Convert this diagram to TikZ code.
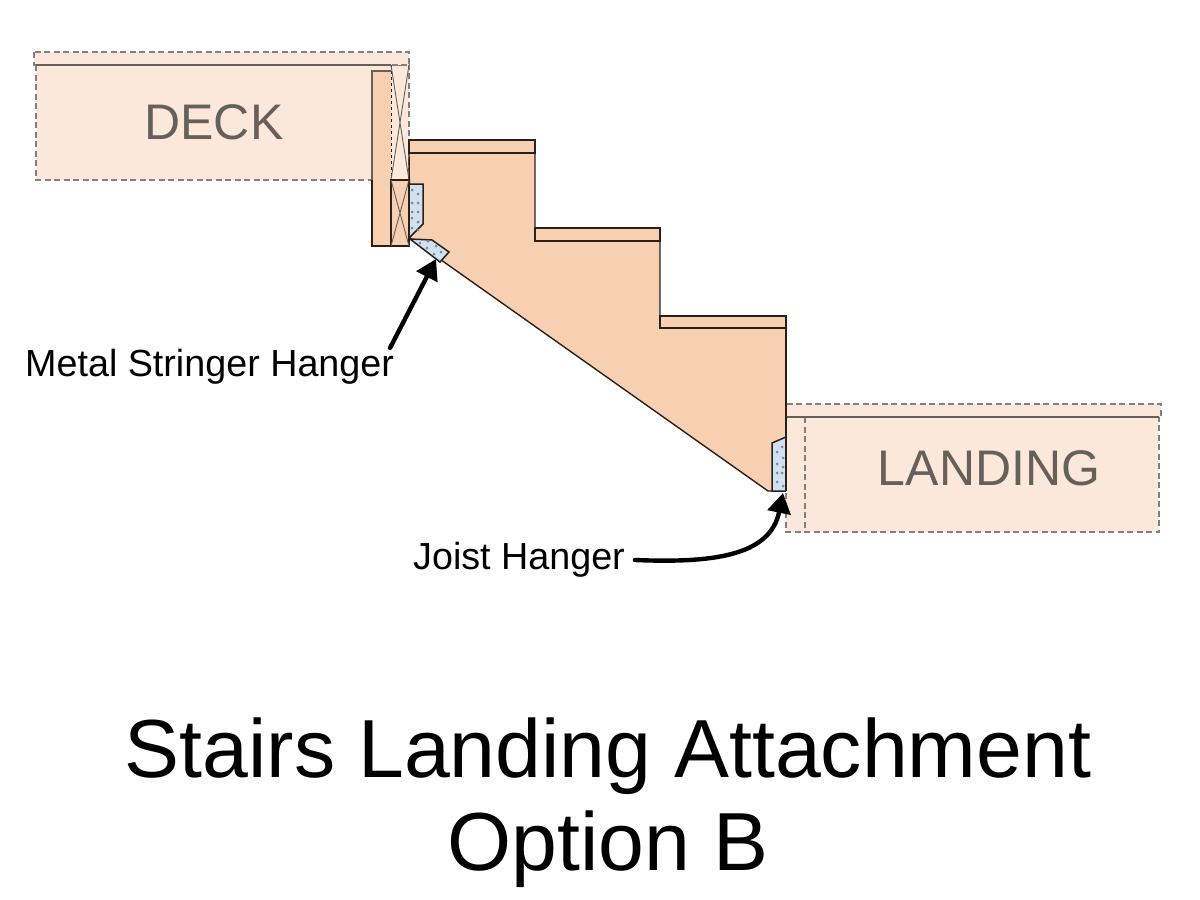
\documentclass[tikz,border=0pt]{standalone}
\usepackage{fontspec}
\setmainfont{Liberation Sans}
\usetikzlibrary{arrows.meta}
\definecolor{pale}{HTML}{FBE8DA}
\definecolor{wood}{HTML}{F7CFB1}
\definecolor{metal}{HTML}{CFE2F3}
\definecolor{dashc}{HTML}{857F7A}
\definecolor{txtc}{HTML}{666059}
\definecolor{edge}{HTML}{2B2018}
\tikzset{
  zone/.style={fill=pale,draw=dashc,line width=1.3pt,dash pattern=on 6pt off 3.5pt},
  rule/.style={draw=txtc,line width=1.3pt},
  woodpart/.style={fill=wood,draw=edge,line width=1.4pt,line join=miter},
  cross/.style={draw=txtc,line width=0.9pt},
  hanger/.style={fill=metal,draw=edge,line width=1.5pt},
  dotm/.style={fill=txtc!70!metal,draw=none},
  zonelabel/.style={text=txtc,font=\fontsize{50}{50}\selectfont,inner sep=0pt},
  callout/.style={text=black,font=\fontsize{37.7}{38}\selectfont,inner sep=0pt},
  pointer/.style={draw=black,line width=4.4pt,line cap=round,-{Triangle[length=20pt,width=23pt]}},
  titlet/.style={text=black,font=\fontsize{82.4}{93}\selectfont,align=center,inner sep=0pt}
}
\begin{document}
\begin{tikzpicture}[x=1pt,y=-1pt]
\useasboundingbox (0,0) rectangle (1200,900);
% deck
\draw[zone] (36,65) rectangle (409,180);
\draw[zone] (34,52) rectangle (409,65);
\draw[rule] (36,65) -- (391,65);
% post
\fill[wood] (372,71) rectangle (391,246);
\draw[draw=txtc,line width=1.3pt] (372,180) -- (372,71) -- (391,71);
\draw[edge,line width=1.4pt] (372,180) -- (372,246) -- (391,246) -- (391,180);
\draw[dashed,draw=edge,line width=1pt] (391,65) -- (391,180);
\draw[cross] (391,65) -- (409,180) (409,65) -- (391,180);
% beam lower
\draw[woodpart] (391,180) rectangle (409,246);
\draw[cross] (391,180) -- (409,246) (409,180) -- (391,246);
% stringer
\draw[woodpart] (409,153) -- (535,153) -- (535,241) -- (660,241) -- (660,328) -- (786,328) -- (786,491) -- (768,491) -- (410,238) -- cycle;
\draw[woodpart] (409,140) rectangle (535,153);
\draw[woodpart] (535,228) rectangle (660,241);
\draw[woodpart] (660,316) rectangle (786,328);
% hangers
\draw[hanger] (409,184) -- (423,184) -- (423,224) -- (409,238) -- cycle;
\draw[hanger] (410,239) -- (432,240) -- (449,252) -- (440,262) -- cycle;
\draw[hanger] (772,443) -- (786,437) -- (786,491) -- (772,491) -- cycle;
\foreach \p in {(412,190),(418,194),(412,203),(418,203),(412,212),(418,212),(412,218),(418,222),(412,228),(418,230),(420,243),(428,241),(427,248),(436,246),(434,254),(441,252)}
  \fill[dotm] \p circle (1.5);
\foreach \p in {(782,447),(777,452),(783,458),(777,464),(783,467),(777,473),(782,473),(777,482),(783,486)}
  \fill[dotm] \p circle (1.5);
% landing
\draw[zone] (786,417) rectangle (1159,532);
\draw[zone] (786,404) rectangle (1161,417);
\draw[zone,fill=none] (805,417) -- (805,532);
\draw[rule] (786,417) -- (1159,417);
\draw[edge,line width=1.4pt] (786,328) -- (786,491);
% labels
\node[zonelabel] (deck) at (214,122) {DECK};
\node[zonelabel] (landing) at (989,468) {LANDING};
\node[callout,anchor=base west] (metallabel) at (25,376) {Metal Stringer Hanger};
\node[callout,anchor=base west] (joistlabel) at (413,569) {Joist Hanger};
\coordinate (metaltip) at (436,259);
\coordinate (metalstart) at (390,348);
\coordinate (joiststart) at (635,560);
\coordinate (joisttip) at (783,493);
\draw[pointer] (metalstart) -- (metaltip);
\draw[pointer] (joiststart) .. controls (710,563) and (770,557) .. (joisttip);
\node[titlet] (title) at (608,803) {Stairs Landing Attachment\\Option B};
\end{tikzpicture}
\end{document}
